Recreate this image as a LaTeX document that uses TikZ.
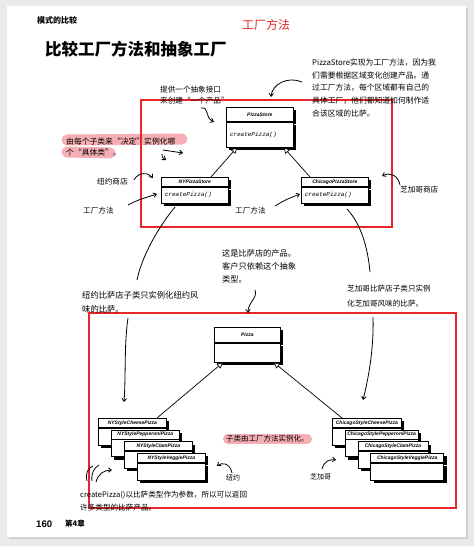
\documentclass[tikz,border=0pt]{standalone}
\usepackage{fontspec}
\newfontfamily\cjk{Noto Sans CJK SC}
\newfontfamily\clsfont{Liberation Sans}
\newfontfamily\methfont{Liberation Mono}
\usetikzlibrary{arrows.meta,shadows,positioning}

\definecolor{framered}{HTML}{E8262A}
\definecolor{markpink}{HTML}{F4A0A6}
\definecolor{pagebg}{HTML}{EAEAEA}

\begin{document}
\begin{tikzpicture}[x=1pt,y=-1pt,
  notetext/.style={font=\cjk\fontsize{7.8}{12.6}\selectfont, align=left, anchor=north west, inner sep=0pt},
  remark/.style={font=\cjk\fontsize{7.6}{9}\selectfont, anchor=west, inner sep=0pt},
  cls/.style={draw, line width=0.7pt, fill=white, anchor=north west, inner sep=1pt,
    font=\clsfont\bfseries\itshape\fontsize{5}{6}\selectfont,
    drop shadow={shadow xshift=2.8pt, shadow yshift=-2.8pt, opacity=1, fill=black}},
  clsbody/.style={cls, font=\methfont\itshape\fontsize{6}{7}\selectfont, align=left, inner xsep=3.5pt},
  handarrow/.style={line width=0.8pt, -{Straight Barb[length=3pt,width=4.5pt]}},
  handline/.style={line width=0.8pt},
  isa/.style={line width=0.7pt, -{Triangle[open, fill=white, length=6pt, width=6pt]}},
  redframe/.style={draw=framered, line width=1.2pt},
  pinkmark/.style={markpink, line width=11pt, line cap=round, opacity=0.85}
]
% Page
\fill[pagebg] (0,0) rectangle (474,546);
\fill[gray!35] (9,8) rectangle (468,539);
\fill[white] (7,6) rectangle (466,537);
\useasboundingbox (0,0) rectangle (474,546);

% Highlighter marks
\draw[pinkmark] (67,140) -- (182,139);
\draw[pinkmark] (67,152) -- (110,153);
\draw[pinkmark, line width=10pt] (228,439) -- (307,439);

% Headings
\node[font=\cjk\bfseries\fontsize{8}{10}\selectfont, anchor=west, inner sep=0pt] (chapter) at (37,20) {模式的比较};
\node[font=\cjk\fontsize{12}{14}\selectfont, text=framered, inner sep=0pt] (pattern) at (266,25) {工厂方法};
\node[font=\cjk\bfseries\fontsize{16.5}{18}\selectfont, anchor=west, inner sep=0pt] (title) at (45,49) {比较工厂方法和抽象工厂};

% Creator classes
\node[cls, minimum width=67pt, minimum height=14pt] (store) at (226,107) {PizzaStore};
\node[clsbody, minimum width=67pt, minimum height=25pt, text width=60pt] (storeb) at (store.south west) {createPizza()};
\node[cls, minimum width=67pt, minimum height=9pt] (nystore) at (161,177) {NYPizzaStore};
\node[clsbody, minimum width=67pt, minimum height=16pt, text width=60pt] (nystoreb) at (nystore.south west) {createPizza()};
\node[cls, minimum width=67pt, minimum height=9pt] (chistore) at (301,177) {ChicagoPizzaStore};
\node[clsbody, minimum width=67pt, minimum height=16pt, text width=60pt] (chistoreb) at (chistore.south west) {createPizza()};

\draw[isa] ([xshift=50pt]nystore.north west) -- ([xshift=11pt]storeb.south west);
\draw[isa] ([xshift=9pt]chistore.north west) -- ([xshift=-10pt]storeb.south east);

% Product classes
\node[cls, minimum width=66pt, minimum height=15pt] (pizza) at (214,327) {Pizza};
\node[clsbody, minimum width=66pt, minimum height=19pt] (pizzab) at (pizza.south west) {};

\foreach \nm [count=\i from 0] in {Cheese,Pepperoni,Clam,Veggie}{
  \node[cls, minimum width=68pt, minimum height=9pt] (ny\i) at ({98+13*\i},{418+11.7*\i}) {NYStyle\nm Pizza};
  \node[clsbody, minimum width=68pt, minimum height=17pt] (nyb\i) at (ny\i.south west) {};
}
\foreach \nm/\w [count=\i from 0] in {Cheese/69,Pepperoni/73,Clam/70,Veggie/73}{
  \node[cls, minimum width=\w pt, minimum height=9pt] (chi\i) at ({332+12.8*\i},{418+11.7*\i}) {ChicagoStyle\nm Pizza};
  \node[clsbody, minimum width=\w pt, minimum height=17pt] (chib\i) at (chi\i.south west) {};
}

\draw[isa] ([xshift=59pt]ny0.north west) -- ([xshift=9pt]pizzab.south west);
\draw[isa] ([xshift=10pt]chi0.north west) -- ([xshift=-7pt]pizzab.south east);

% Red frames
\draw[redframe] (141,100) rectangle (392,227);
\draw[redframe] (89,313) rectangle (456,508);

% Notes
\node[notetext] (storenote) at (312,58.8) {PizzaStore实现为工厂方法，因为我\\们需要根据区域变化创建产品。通\\过工厂方法，每个区域都有自己的\\具体工厂，他们都知道如何制作适\\合该区域的比萨。};
\node[notetext, font=\cjk\fontsize{7.6}{11.5}\selectfont] (abstractnote) at (160,85.4) {提供一个抽象接口\\来创建“一个产品”};
\node[notetext, font=\cjk\fontsize{7.8}{11.5}\selectfont] (decidenote) at (66,137.4) {由每个子类来“决定”实例化哪\\个“具体类”。};
\node[remark] (nylabel) at (97,182) {纽约商店};
\node[remark] (chilabel) at (400,190) {芝加哥商店};
\node[remark] (fmleft) at (83,211) {工厂方法};
\node[remark] (fmmid) at (235,211) {工厂方法};
\node[notetext, font=\cjk\fontsize{8.2}{13}\selectfont] (productnote) at (222,249.2) {这是比萨店的产品。\\客户只依赖这个抽象\\类型。};
\node[notetext, font=\cjk\fontsize{8.3}{14}\selectfont] (nynote) at (82,291.1) {纽约比萨店子类只实例化纽约风\\味的比萨。};
\node[notetext, font=\cjk\fontsize{7.6}{15}\selectfont] (chinote) at (347,284.4) {芝加哥比萨店子类只实例\\化芝加哥风味的比萨。};
\node[remark, font=\cjk\fontsize{7.5}{9}\selectfont] (subnote) at (226,439) {子类由工厂方法实例化。};
\node[remark, font=\cjk\fontsize{7}{9}\selectfont] (nysmall) at (226,478) {纽约};
\node[remark, font=\cjk\fontsize{7}{9}\selectfont] (chismall) at (310,477) {芝加哥};
\node[notetext, font=\cjk\fontsize{7.6}{13.5}\selectfont] (createnote) at (80,490.4) {createPizza()以比萨类型作为参数，所以可以返回\\许多类型的比萨产品。};

% Page footer
\node[font=\clsfont\bfseries\fontsize{9.6}{11}\selectfont, anchor=west, inner sep=0pt] (pagenum) at (36,524) {160};
\node[font=\cjk\bfseries\fontsize{7.5}{9}\selectfont, anchor=west, inner sep=0pt] (chapnum) at (65,524) {第4章};

% Hand-drawn arrows
\draw[handarrow] (302,82) .. controls (288,76) and (272,84) .. (271,97);
\draw[handarrow] (201,108) .. controls (210,107) and (204,117) .. (214,122);
\draw[handarrow] (163,150) -- (183,153);
\draw[handarrow] (162,154) .. controls (162,157) .. (166,160);
\draw[handarrow] (134,180) .. controls (138,172) and (148,172) .. (153,178);
\draw[handarrow] (128,205) .. controls (138,200) .. (157,194);
\draw[handarrow] (275,206) .. controls (285,200) .. (300,194);
\draw[handarrow] (400,185) .. controls (398,175) and (390,172) .. (382,176);
\draw[handline] (175,207) .. controls (160,225) and (142,255) .. (137,280);
\draw[handarrow] (128,318) .. controls (124,345) and (126,375) .. (124,402);
\draw[handline] (347,209) .. controls (362,225) and (368,250) .. (370,272);
\draw[handarrow] (373,317) .. controls (374,350) and (368,380) .. (363,400);
\draw[handarrow] (255,290) .. controls (258,298) and (248,302) .. (248,313);
\draw[handarrow] (232,473) .. controls (230,463) and (222,462) .. (217,466);
\draw[handarrow] (322,469) .. controls (324,461) and (330,459) .. (336,460);
\draw[handline] (87,481) .. controls (85,473) and (88,468) .. (93,466);
\draw[handline] (92,481) .. controls (91,473) and (94,468) .. (99,465);
\draw[handarrow] (96,482) .. controls (98,474) and (104,470) .. (112,470);
\end{tikzpicture}
\end{document}
